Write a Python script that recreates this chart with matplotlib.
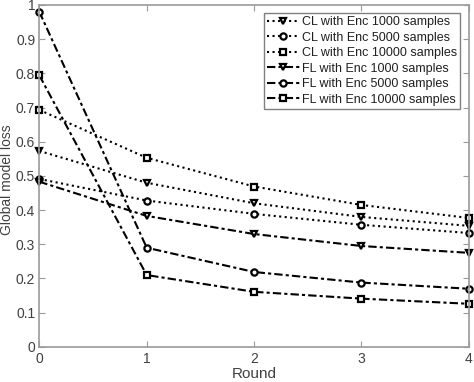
import matplotlib.pyplot as plt

plt.rcParams['font.family'] = ['Liberation Sans', 'DejaVu Sans']

rounds = [0, 1, 2, 3, 4]

cl_1000 = [0.573, 0.480, 0.420, 0.380, 0.354]
cl_5000 = [0.491, 0.428, 0.389, 0.357, 0.333]
cl_10000 = [0.693, 0.553, 0.469, 0.415, 0.377]
fl_1000 = [0.483, 0.383, 0.330, 0.295, 0.275]
fl_5000 = [0.980, 0.290, 0.219, 0.188, 0.170]
fl_10000 = [0.794, 0.210, 0.161, 0.141, 0.126]

labels = ['CL with Enc 1000 samples', 'CL with Enc 5000 samples',
          'CL with Enc 10000 samples', 'FL with Enc 1000 samples',
          'FL with Enc 5000 samples', 'FL with Enc 10000 samples']

fig = plt.figure(figsize=(4.74, 3.82), dpi=100)
ax = fig.add_axes([0.083, 0.092, 0.906, 0.895])

grey = '#9a9a9a'
txt = '#404040'

series = [cl_1000, cl_5000, cl_10000, fl_1000, fl_5000, fl_10000]
dashdot = (0, (4, 1.5, 1.5, 1.5))
styles = [':', ':', ':', dashdot, dashdot, dashdot]
markers = ['v', 'o', 's', 'v', 'o', 's']
for ys, ls, mk, lb in zip(series, styles, markers, labels):
    ax.plot(rounds, ys, color='black', linestyle=ls, linewidth=1.5,
            marker=mk, markersize=4.5, markerfacecolor='white',
            markeredgecolor='black', markeredgewidth=1.6, label=lb,
            clip_on=False)

ax.set_xlim(0, 4)
ax.set_ylim(0, 1)
ax.set_xticks(rounds)
ax.set_yticks([0, 0.1, 0.2, 0.3, 0.4, 0.5, 0.6, 0.7, 0.8, 0.9, 1])
ax.set_yticklabels(['0', '0.1', '0.2', '0.3', '0.4', '0.5', '0.6', '0.7', '0.8', '0.9', '1'])
ax.tick_params(direction='in', length=4, color=grey, labelcolor=txt,
               labelsize=10, top=True, right=True)
ax.tick_params(axis='y', pad=3)
for s in ax.spines.values():
    s.set_color(grey)
    s.set_linewidth(1.2)

ax.set_xlabel('Round', fontsize=11, color=txt, labelpad=1)
ax.set_ylabel('Global model loss', fontsize=10, color=txt)
ax.yaxis.set_label_coords(-0.058, 0.49)

leg = ax.legend(loc='upper right', bbox_to_anchor=(0.979, 0.976), fontsize=9,
                frameon=True, fancybox=False, handlelength=2.6,
                handletextpad=0.15, borderpad=0.25, labelspacing=0.28,
                borderaxespad=0.0)
leg.get_frame().set_edgecolor('#606060')
leg.get_frame().set_linewidth(1.0)
for t in leg.get_texts():
    t.set_color('#202020')

fig.savefig('out.png', dpi=100)
